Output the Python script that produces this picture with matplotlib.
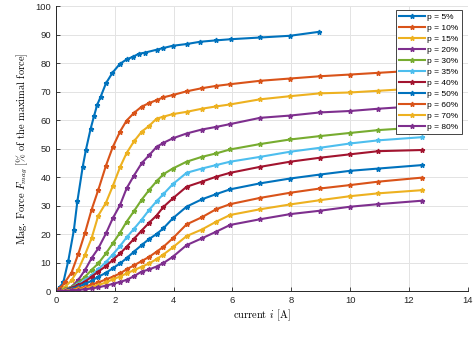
import matplotlib
matplotlib.use('Agg')
import matplotlib.pyplot as plt

# current samples [A]
i_5 = [0, 0.14, 0.25, 0.42, 0.61, 0.73, 0.91, 1.02, 1.18, 1.30, 1.40, 1.52, 1.70, 1.92,
       2.17, 2.40, 2.61, 2.82, 3.03, 3.42, 3.65, 3.97, 4.44, 4.90, 5.45, 5.95, 6.95, 7.95, 8.95]
i_rest = [0, 0.15, 0.3, 0.53, 0.76, 0.99, 1.21, 1.44, 1.70, 1.93, 2.18, 2.40, 2.65, 2.91,
          3.17, 3.42, 3.65, 3.97, 4.44, 4.96, 5.44, 5.92, 6.94, 7.96, 8.98, 10.0, 10.96, 12.43]

# force in % of maximal force
f_5 = [0, 1.5, 3, 10.6, 21.4, 31.6, 43.6, 49.6, 57, 61.6, 65.3, 68.2, 72.9, 76.6,
       79.7, 81.3, 82.2, 83.3, 83.7, 84.7, 85.3, 86.1, 86.7, 87.5, 88, 88.4, 89, 89.6, 91]
f_10 = [0, 1, 3, 6.5, 13, 20.5, 28.5, 35.5, 44, 50.5, 56, 59.8, 62.5, 64.7,
        66, 67, 68, 68.8, 70.1, 71.2, 72, 72.6, 73.8, 74.6, 75.4, 76, 76.6, 77.5]
f_15 = [0, 0.5, 1.3, 3.8, 7.5, 12.8, 18.5, 26.5, 31, 36.8, 43.5, 48.4, 52.5, 55.9,
        58, 60.5, 61.2, 62.1, 62.9, 64, 64.8, 65.5, 67.3, 68.4, 69.4, 69.7, 70.3, 71.2]
f_20 = [0, 0.2, 0.4, 1.5, 3.9, 7.4, 11.5, 15, 20.2, 25.5, 30.2, 36, 40.5, 44.8,
        47.7, 50.6, 52, 53.6, 55.3, 56.7, 57.6, 58.6, 60.8, 61.6, 62.7, 63.2, 64, 65]
f_30 = [0, 0.3, 0.6, 1.5, 2.9, 5, 7.4, 9.7, 13.2, 16.7, 20.5, 24.3, 28, 32,
        35.5, 38.5, 41, 43, 45.4, 47.1, 48.3, 49.7, 51.6, 53.2, 54.4, 55.5, 56.5, 57.5]
f_35 = [0, 0.2, 0.5, 1.2, 2.3, 3.8, 5.6, 7.6, 10.2, 12.8, 15.8, 18.8, 21.8, 25,
        28.5, 31.5, 34, 37.5, 41.5, 43, 44.2, 45.4, 47.1, 48.9, 50.3, 51.8, 52.9, 54]
f_40 = [0, 0.2, 0.4, 1.2, 2.1, 3.3, 5, 6.8, 8.8, 10.9, 13.2, 15.5, 18.3, 21.2,
        24, 26.5, 29.5, 32.5, 36.6, 38.4, 40.1, 41.5, 43.6, 45.4, 46.8, 48, 49.1, 49.5]
f_50 = [0, 0.1, 0.3, 0.8, 1.5, 2.5, 3.6, 5, 6.4, 8, 9.7, 11.5, 13.8, 16.1,
        18.3, 20, 22, 25.5, 29.6, 32.2, 34, 35.7, 37.8, 39.5, 40.9, 42.2, 43, 44.2]
f_60 = [0, 0.1, 0.2, 0.5, 0.9, 1.5, 2.3, 3, 4.1, 5, 6.2, 7.6, 9, 10.5,
        12, 13.8, 15.5, 18.5, 23.4, 25.9, 28.7, 30.5, 32.7, 34.5, 36, 37.2, 38.4, 39.8]
f_70 = [0, 0.1, 0.2, 0.4, 0.7, 0.9, 1.5, 2.1, 3, 4.1, 5.1, 6.2, 7.3, 8.5,
        9.7, 11.2, 12.8, 15.3, 19.3, 21.6, 24.3, 26.7, 28.7, 30.4, 31.9, 33.3, 34.3, 35.4]
f_80 = [0, 0, 0.1, 0.2, 0.4, 0.6, 0.9, 1.3, 1.9, 2.5, 3.2, 3.9, 5.2, 6.8,
        7.6, 8.6, 9.8, 12, 16.1, 18.5, 20.8, 23.2, 25.2, 27, 28.2, 29.6, 30.5, 31.7]

labels = ['p = 5%', 'p = 10%', 'p = 15%', 'p = 20%', 'p = 30%', 'p = 35%',
          'p = 40%', 'p = 50%', 'p = 60%', 'p = 70%', 'p = 80%']
currents = [i_5] + [i_rest] * 10
forces = [f_5, f_10, f_15, f_20, f_30, f_35, f_40, f_50, f_60, f_70, f_80]

# matlab default color order
colors = ['#0072BD', '#D95319', '#EDB120', '#7E2F8E', '#77AC30', '#4DBEEE', '#A2142F']

plt.rcParams['mathtext.fontset'] = 'cm'
plt.rcParams['font.family'] = 'Liberation Sans'

fig = plt.figure(figsize=(4.74, 3.42), dpi=100)
ax = fig.add_axes([0.118, 0.149, 0.869, 0.833])

for k, (x, y, lab) in enumerate(zip(currents, forces, labels)):
    ax.plot(x, y, color=colors[k % 7], lw=1.5, marker='*', ms=3.5, mew=1, label=lab)

ax.set_xlim(0, 14)
ax.set_ylim(0, 100)
ax.set_xticks(range(0, 15, 2))
ax.set_yticks(range(0, 101, 10))
ax.grid(True, color='#e3e3e3', lw=0.7)
ax.set_axisbelow(True)
ax.tick_params(direction='in', labelsize=6.8, colors='#262626', length=3, width=0.6)
for s in ['top', 'right']:
    ax.spines[s].set_visible(False)
for s in ['left', 'bottom']:
    ax.spines[s].set_color('#262626')
    ax.spines[s].set_linewidth(0.7)

ax.set_xlabel('current $i$ [A]', fontsize=7.5, family='cmr10', labelpad=2)
ax.set_ylabel(r'Mag. Force $F_{mag}$ [$\%$ of the maximal force]', fontsize=7.5,
              family='cmr10', labelpad=4)

leg = ax.legend(loc='upper right', bbox_to_anchor=(0.985, 0.985), borderaxespad=0,
                fontsize=6, handlelength=3.1, labelspacing=0.38, handletextpad=0.3,
                borderpad=0.35, fancybox=False, framealpha=1)
leg.get_frame().set_edgecolor('#262626')
leg.get_frame().set_linewidth(0.6)

fig.savefig('out.png', dpi=100)
